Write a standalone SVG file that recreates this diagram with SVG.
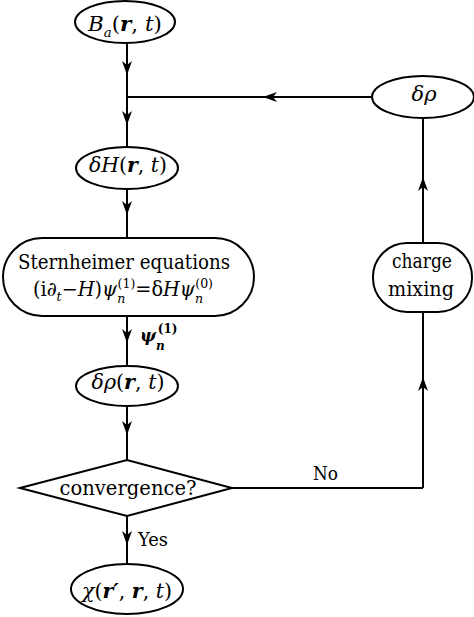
<svg xmlns="http://www.w3.org/2000/svg" width="474" height="617" viewBox="0 0 474 617" font-family="'DejaVu Serif', serif">
<defs>
<marker id="arr" markerUnits="userSpaceOnUse" viewBox="-15 -7 16 14" refX="0" refY="0" markerWidth="16" markerHeight="14" orient="auto">
<path d="M0,0 L-14,-5 L-10,0 L-14,5 Z" fill="#000"/>
</marker>
</defs>
<style>
.shape{fill:#fff;stroke:#000;stroke-width:2}
.conn{fill:none;stroke:#000;stroke-width:2;marker-mid:url(#arr)}
.line{fill:none;stroke:#000;stroke-width:2}
text{fill:#000;font-family:"DejaVu Serif",serif}
.m{font-size:21px}
.t{font-size:20px}
.i{font-style:italic}
.b{font-weight:bold;font-style:italic}
.s{font-size:13px}
.lbl{font-size:18px}
</style>
<rect width="474" height="617" fill="#fff"/>
<g id="connectors">
<path class="conn" d="M127 43 L127 75 L127 97"/>
<path class="conn" d="M371 97 L263 97 L127 97"/>
<path class="conn" d="M127 97 L127 125 L127 147"/>
<path class="conn" d="M127 189 L127 215 L127 238"/>
<path class="conn" d="M127 316 L127 343 L127 366"/>
<path class="conn" d="M127 406 L127 435 L127 460"/>
<path class="conn" d="M127 516 L127 545 L127 564"/>
<path class="line" d="M232 488 L423 488"/>
<path class="conn" d="M423 488 L423 377 L423 312"/>
<path class="conn" d="M423 243 L423 177 L423 118"/>
<text class="lbl" x="313" y="480" textLength="25" lengthAdjust="spacingAndGlyphs">No</text>
<text class="lbl" x="138" y="546" textLength="30" lengthAdjust="spacingAndGlyphs">Yes</text>
<text class="lbl" x="140" y="341"><tspan class="b" font-size="17">ψ</tspan><tspan class="b" font-size="12" dy="9">n</tspan><tspan font-weight="bold" font-size="12" dx="-7" dy="-17">(1)</tspan></text>
</g>
<g id="node-Ba">
<ellipse class="shape" cx="125" cy="22" rx="50" ry="21"/>
<text class="m" x="125" y="31" text-anchor="middle" textLength="74" lengthAdjust="spacingAndGlyphs"><tspan class="i">B</tspan><tspan class="i s" dy="6">a</tspan><tspan dy="-6">(</tspan><tspan class="b">r</tspan>, <tspan class="i">t</tspan>)</text>
</g>
<g id="node-dH">
<ellipse class="shape" cx="127" cy="168" rx="51" ry="21"/>
<text class="m" x="128" y="172" text-anchor="middle" textLength="78" lengthAdjust="spacingAndGlyphs"><tspan class="i">δH</tspan>(<tspan class="b">r</tspan>, <tspan class="i">t</tspan>)</text>
</g>
<g id="node-sternheimer">
<rect class="shape" x="3" y="238" width="251" height="78" rx="39"/>
<text class="t" x="124" y="269" text-anchor="middle" textLength="212" lengthAdjust="spacingAndGlyphs">Sternheimer equations</text>
<text class="t" x="123" y="296" text-anchor="middle" textLength="180" lengthAdjust="spacingAndGlyphs">(i∂<tspan class="i s" dy="5">t</tspan><tspan dy="-5">−</tspan><tspan class="i">H</tspan>)<tspan class="i">ψ</tspan><tspan class="i s" dy="7">n</tspan><tspan class="s" dx="-8" dy="-15">(1)</tspan><tspan dy="8">=δ</tspan><tspan class="i">Hψ</tspan><tspan class="i s" dy="7">n</tspan><tspan class="s" dx="-8" dy="-15">(0)</tspan></text>
</g>
<g id="node-drho">
<ellipse class="shape" cx="127" cy="386" rx="51" ry="20"/>
<text class="m" x="128" y="389" text-anchor="middle" textLength="73" lengthAdjust="spacingAndGlyphs"><tspan class="i">δρ</tspan>(<tspan class="b">r</tspan>, <tspan class="i">t</tspan>)</text>
</g>
<g id="node-convergence">
<polygon class="shape" points="20,488 127,460 232,488 127,516"/>
<text class="t" x="128" y="495" text-anchor="middle" textLength="137" lengthAdjust="spacingAndGlyphs">convergence?</text>
</g>
<g id="node-chi">
<ellipse class="shape" cx="127" cy="589" rx="56" ry="25"/>
<text class="m" x="127" y="598" text-anchor="middle" textLength="90" lengthAdjust="spacingAndGlyphs"><tspan class="i">χ</tspan>(<tspan class="b">r′</tspan>, <tspan class="b">r</tspan>, <tspan class="i">t</tspan>)</text>
</g>
<g id="node-drho-mix">
<ellipse class="shape" cx="423" cy="97" rx="51" ry="21"/>
<text class="m i" x="424" y="101" text-anchor="middle">δρ</text>
</g>
<g id="node-charge-mixing">
<rect class="shape" x="373" y="243" width="99" height="69" rx="34"/>
<text class="t" x="422" y="268" text-anchor="middle" textLength="60" lengthAdjust="spacingAndGlyphs">charge</text>
<text class="t" x="421" y="296" text-anchor="middle" textLength="66" lengthAdjust="spacingAndGlyphs">mixing</text>
</g>
</svg>
